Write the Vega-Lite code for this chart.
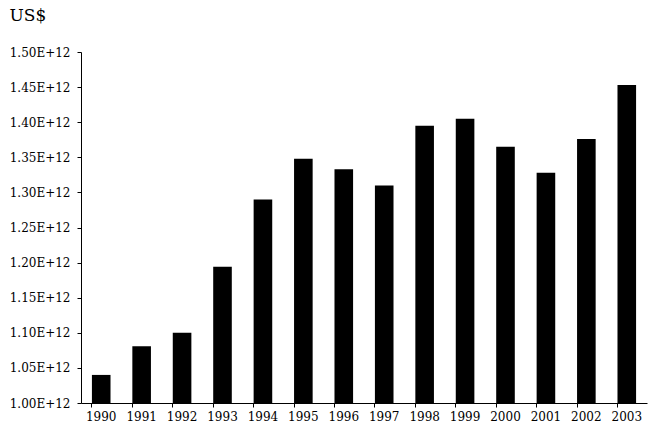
{
  "$schema": "https://vega.github.io/schema/vega-lite/v6.json",
  "autosize": "none",
  "width": 566,
  "height": 351,
  "padding": {"left": 81, "top": 52, "right": 4, "bottom": 24},
  "background": "white",
  "data": {
    "values": [
      {"year": "1990", "value": 1.040e12},
      {"year": "1991", "value": 1.081e12},
      {"year": "1992", "value": 1.100e12},
      {"year": "1993", "value": 1.194e12},
      {"year": "1994", "value": 1.290e12},
      {"year": "1995", "value": 1.348e12},
      {"year": "1996", "value": 1.333e12},
      {"year": "1997", "value": 1.310e12},
      {"year": "1998", "value": 1.395e12},
      {"year": "1999", "value": 1.405e12},
      {"year": "2000", "value": 1.365e12},
      {"year": "2001", "value": 1.328e12},
      {"year": "2002", "value": 1.376e12},
      {"year": "2003", "value": 1.453e12}
    ]
  },
  "mark": {"type": "bar", "color": "black"},
  "encoding": {
    "x": {
      "field": "year",
      "type": "ordinal",
      "scale": {"paddingInner": 0.54, "paddingOuter": 0.27},
      "axis": {
        "title": null,
        "labelAngle": 0,
        "labelFont": "DejaVu Serif",
        "labelFontSize": 12,
        "labelColor": "black",
        "labelPadding": 4,
        "bandPosition": 0,
        "tickSize": 4,
        "tickColor": "black",
        "domainColor": "black",
        "grid": false
      }
    },
    "y": {
      "field": "value",
      "type": "quantitative",
      "scale": {"domain": [1e12, 1.5e12], "zero": false, "nice": false},
      "axis": {
        "title": "US$",
        "titleAngle": 0,
        "titleFont": "DejaVu Serif",
        "titleFontSize": 17,
        "titleFontWeight": "normal",
        "titleColor": "black",
        "titleAlign": "left",
        "titleBaseline": "middle",
        "titleX": -72,
        "titleY": -37,
        "values": [1e12, 1.05e12, 1.1e12, 1.15e12, 1.2e12, 1.25e12, 1.3e12, 1.35e12, 1.4e12, 1.45e12, 1.5e12],
        "labelExpr": "replace(format(datum.value, '.2e'), 'e', 'E')",
        "labelFont": "DejaVu Serif",
        "labelFontSize": 12,
        "labelColor": "black",
        "labelPadding": 7,
        "tickSize": 4,
        "tickColor": "black",
        "domainColor": "black",
        "grid": false
      }
    },
    "y2": {"datum": 1e12}
  },
  "config": {"view": {"stroke": null}}
}
